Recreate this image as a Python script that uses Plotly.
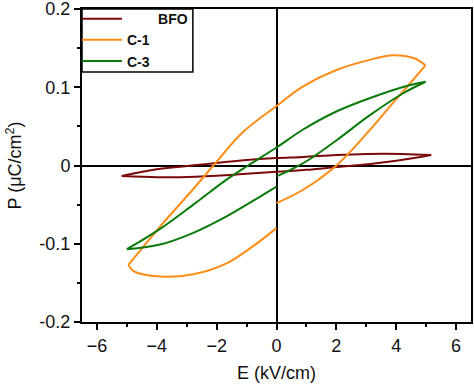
import plotly.graph_objects as go

# ---- data, each loop split into its three branches ----
# BFO
E_bfo_up = [0, 1.0, 2.0, 2.8, 4.0, 5.17]
P_bfo_up = [-0.008, -0.0055, -0.002, 0.0006, 0.006, 0.0134]
E_bfo_down = [5.17, 4.2, 3.0, 2.0, 0.9, 0, -1.0, -2.56, -3.22, -4.2, -5.17]
P_bfo_down = [0.0134, 0.0148, 0.0148, 0.0135, 0.011, 0.0095, 0.007, 0.001, -0.0015, -0.006, -0.0134]
E_bfo_back = [-5.17, -4.0, -3.2, -2.0, -1.0, 0]
P_bfo_back = [-0.0134, -0.015, -0.015, -0.013, -0.0105, -0.008]

# C-1
E_c1_up = [0, 0.89, 2.0, 3.11, 3.78, 4.33, 4.98]
P_c1_up = [-0.048, -0.031, 0.0, 0.045, 0.075, 0.099, 0.128]
E_c1_down = [4.98, 4.6, 3.89, 3.11, 2.0, 0.89, 0, -1.11, -2.11, -2.78, -3.89, -4.95]
P_c1_down = [0.128, 0.137, 0.141, 0.135, 0.122, 0.101, 0.076, 0.043, 0.0, -0.030, -0.078, -0.127]
E_c1_back = [-4.95, -4.78, -3.89, -2.78, -1.67, -0.78, 0]
P_c1_back = [-0.127, -0.135, -0.142, -0.139, -0.125, -0.103, -0.080]

# C-3
E_c3_up = [0, 0.55, 1.11, 2.0, 3.11, 4.22, 4.98]
P_c3_up = [-0.014, -0.004, 0.008, 0.032, 0.064, 0.092, 0.107]
E_c3_down = [4.98, 4.44, 3.11, 2.0, 0.89, 0, -0.95, -1.67, -2.78, -3.89, -5.0]
P_c3_down = [0.107, 0.1025, 0.086, 0.069, 0.046, 0.023, 0.0, -0.018, -0.050, -0.081, -0.107]
E_c3_back = [-5.0, -3.89, -2.78, -1.67, -0.56, 0]
P_c3_back = [-0.107, -0.101, -0.086, -0.065, -0.040, -0.027]

series_names = ["BFO", "C-1", "C-3"]
legend_labels = ["\u00a0" * 8 + "BFO", "C-1", "C-3"]
colors = ["#7a0a0a", "#ff8c14", "#0a7a0a"]

x_ticks = [-6, -4, -2, 0, 2, 4, 6]
y_ticks = [-0.2, -0.1, 0, 0.1, 0.2]
y_ticktext = ["-0.2", "-0.1", "0", "0.1", "0.2"]

branches = [
    [(E_bfo_up, P_bfo_up), (E_bfo_down, P_bfo_down), (E_bfo_back, P_bfo_back)],
    [(E_c1_up, P_c1_up), (E_c1_down, P_c1_down), (E_c1_back, P_c1_back)],
    [(E_c3_up, P_c3_up), (E_c3_down, P_c3_down), (E_c3_back, P_c3_back)],
]

fig = go.Figure()
for sname, label, color, brs in zip(series_names, legend_labels, colors, branches):
    for i, (E, P) in enumerate(brs):
        fig.add_trace(go.Scatter(x=E, y=P, mode="lines", name=label, legendgroup=sname,
                                 showlegend=(i == 0),
                                 line=dict(color=color, width=2, shape="spline", smoothing=1.0)))

font = dict(family="Liberation Sans, Arial, sans-serif", size=18, color="#111")
axis_common = dict(showgrid=False, showline=True, linecolor="black", linewidth=2,
                   mirror=True, ticks="outside", ticklen=6, tickwidth=2, tickcolor="black",
                   zeroline=True, zerolinecolor="black", zerolinewidth=2,
                   tickfont=font, ticklabeloverflow="allow", automargin=False)
fig.update_layout(
    width=474, height=384,
    margin=dict(l=82, r=3, t=9, b=62),
    paper_bgcolor="white", plot_bgcolor="white",
    font=font,
    xaxis=dict(range=[-6.5, 6.5], tickvals=x_ticks,
               minor=dict(tickvals=[-5, -3, -1, 1, 3, 5], ticklen=3, tickwidth=2, tickcolor="black", ticks="outside"),
               title=dict(text="E (kV/cm)", font=font, standoff=12), **axis_common),
    yaxis=dict(range=[-0.2, 0.2], tickvals=y_ticks, ticktext=y_ticktext,
               minor=dict(tickvals=[-0.15, -0.05, 0.05, 0.15], ticklen=3, tickwidth=2, tickcolor="black", ticks="outside"),
               title=dict(text="P (\u03bcC/cm<sup>2</sup>)", font=font, standoff=13), **axis_common),
    legend=dict(x=-0.013, y=1.019, xanchor="left", yanchor="top", bgcolor="rgba(0,0,0,0)",
                borderwidth=0, itemwidth=40,
                font=dict(family="Liberation Sans, Arial, sans-serif", size=14, color="#111", weight="bold"),
                tracegroupgap=0),
    shapes=[dict(type="rect", xref="paper", yref="paper", x0=0, x1=0.285, y0=0.799, y1=1,
                 line=dict(color="black", width=1.5), fillcolor="white", layer="below")],
    showlegend=True,
)
fig.write_html("out.html", config={"displayModeBar": False},
               post_script="document.body.style.margin='0';")
